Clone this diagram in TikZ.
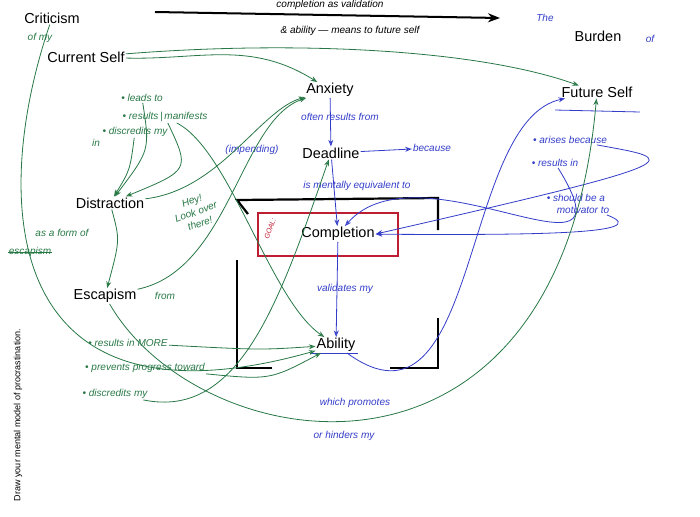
\documentclass[tikz,border=0pt]{standalone}
\usepackage{fontspec}
\setmainfont{Liberation Sans}
\usetikzlibrary{arrows.meta}
\definecolor{hgreen}{RGB}{40,120,70}
\definecolor{hblue}{RGB}{50,60,200}
\definecolor{hred}{RGB}{190,30,50}
\tikzset{
  box/.style={font=\Large, inner sep=1pt},
  gnote/.style={text=hgreen, font=\itshape, inner sep=1pt},
  bnote/.style={text=hblue, font=\itshape, inner sep=1pt},
  garrow/.style={hgreen, thick, -{Stealth[open]}},
  barrow/.style={hblue, thick, -{Stealth[open]}},
}
\begin{document}
\begin{tikzpicture}[x=0.035cm,y=-0.035cm]
	\useasboundingbox (0,0) rectangle (700,516);
	% printed nodes
	\node (crit) [box] at (52,18) {Criticism};
	\node (cself) [box] at (86,57) {Current Self};
	\node (burden) [box] at (598,36) {Burden};
	\node (fself) [box] at (597,92) {Future Self};
	\node (anx) [box] at (330,90) {Anxiety};
	\node (dead) [box] at (331,153) {Deadline};
	\node (comp) [box] at (338,234) {Completion};
	\node (dist) [box] at (110,203) {Distraction};
	\node (esc) [box] at (105,296) {Escapism};
	\node (abil) [box] at (336,345) {Ability};
	\node (prompt) [rotate=90, font=\small] at (18,415) {Draw your mental model of procrastination.};

	% frames
	\draw [hred, very thick] (258,213) rectangle (398,256);
	\draw [line width=2.2pt] (248,214) -- (237,200) -- (438,198) -- (438,230);
	\draw [line width=2.2pt] (237,260) -- (237,368) -- (272,368);
	\draw [line width=2.2pt] (390,368) -- (438,368) -- (438,318);
	\draw [line width=2pt, -{Stealth}] (155,12) -- (500,18);
	\draw [hblue, thick] (555,110) -- (640,112);
	\draw [hblue, thick] (310,353) -- (358,353);

	% handwritten labels
	\node [font=\itshape] at (330,5) {completion as validation};
	\node [font=\itshape] at (350,31) {\& ability --- means to future self};
	\node [gnote] at (40,38) {of my};
	\node [gnote] (l1) at (142,98) {\textbullet\ leads to};
	\node [gnote] (l2) at (165,117) {\textbullet\ results\,|\,manifests};
	\node [gnote] (l3) at (135,132) {\textbullet\ discredits my};
	\node [gnote] at (96,143) {in};
	\node [gnote] at (62,233) {as a form of};
	\node [gnote] (strk) at (30,252) {escapism};
	\draw [hgreen, thick] (strk.west) -- (strk.east);
	\node [gnote, align=center, rotate=20] at (196,212) {Hey!\\ Look over\\ there!};
	\node [gnote] at (165,296) {from};
	\node [gnote] (r1) at (128,343) {\textbullet\ results in MORE};
	\node [gnote] (r2) at (145,368) {\textbullet\ prevents progress toward};
	\node [gnote] (r3) at (115,394) {\textbullet\ discredits my};
	\node [bnote] at (340,117) {often results from};
	\node [bnote] at (252,150) {(impending)};
	\node [bnote] (bec) at (432,148) {because};
	\node [bnote] at (357,186) {is mentally equivalent to};
	\node [bnote] at (345,289) {validates my};
	\node [bnote] at (355,403) {which promotes};
	\node [bnote] at (344,436) {or hinders my};
	\node [bnote] at (545,18) {The};
	\node [bnote] at (650,39) {of};
	\node [bnote] (f1) at (570,140) {\textbullet\ arises because};
	\node [bnote] (f2) at (555,163) {\textbullet\ results in};
	\node [bnote, align=left] (f3) at (578,204) {\textbullet\ should be a\\ \quad motivator to};
	\node [text=hred, font=\itshape\scriptsize, rotate=70] at (270,229) {GOAL:};

	% connectors
	\draw [barrow] (anx) -- (dead);
	\draw [barrow] (dead) -- (comp);
	\draw [barrow] (comp) -- (abil);
	\draw [barrow] (dead) -- (bec);
	\draw [barrow] (abil) .. controls (480,450) and (460,120) .. (fself);
	\draw [barrow] (f3) .. controls (660,235) and (520,235) .. (comp);
	\draw [barrow] (f2) .. controls (640,300) and (420,140) .. (comp);
	\draw [barrow] (f1) .. controls (680,160) and (700,160) .. (comp.east);
	\draw [garrow] (cself) .. controls (200,60) and (250,40) .. (anx);
	\draw [garrow] (crit) .. controls (-10,200) and (0,440) .. (abil);
	\draw [garrow] (cself) .. controls (300,40) and (480,50) .. (fself);
	\draw [garrow] (l2) .. controls (190,170) .. (dist);
	\draw [garrow] (l1) .. controls (150,150) .. (dist);
	\draw [garrow] (l3) .. controls (130,170) .. (dist);
	\draw [garrow] (dist) .. controls (120,240) .. (esc);
	\draw [garrow] (esc) .. controls (230,270) and (240,120) .. (anx);
	\draw [garrow] (r1) .. controls (260,350) .. (abil);
	\draw [garrow] (r2) .. controls (270,380) .. (abil);
	\draw [garrow] (r3) .. controls (240,420) and (280,300) .. (dead);
	\draw [garrow] (dist) .. controls (220,190) and (260,110) .. (anx);
	\draw [garrow] (l2) .. controls (230,150) and (270,300) .. (abil);
	\draw [garrow] (esc) .. controls (200,460) and (560,520) .. (fself);
\end{tikzpicture}
\end{document}
